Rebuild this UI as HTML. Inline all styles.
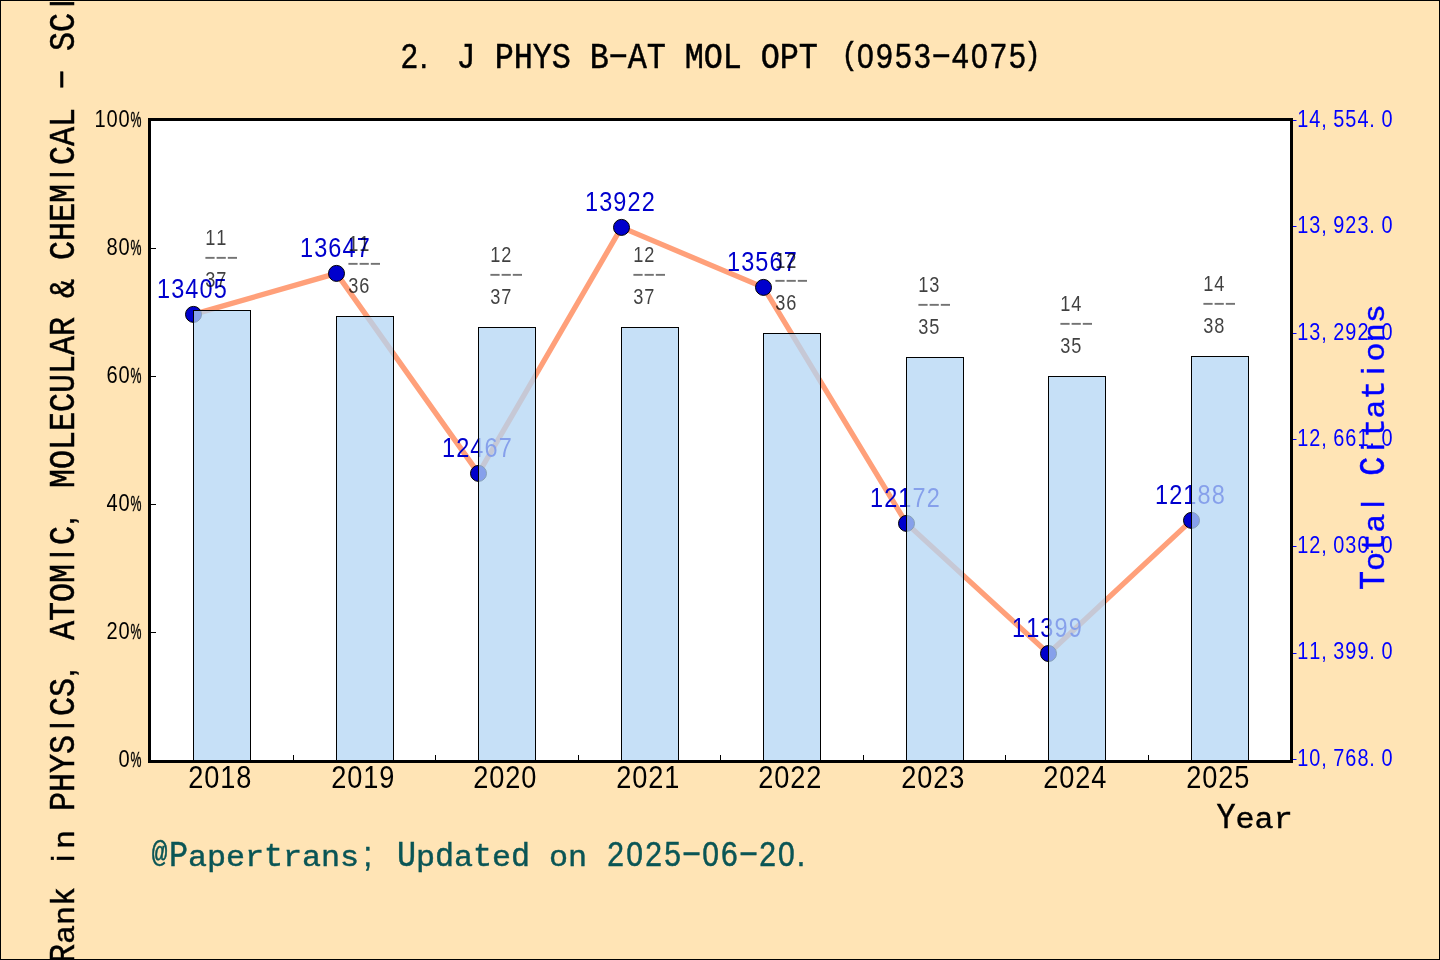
<!DOCTYPE html>
<html><head><meta charset="utf-8"><title>chart</title>
<style>html,body{margin:0;padding:0;background:#FFE4B5}body{width:1440px;height:960px;overflow:hidden}</style></head>
<body>
<svg width="1440" height="960" viewBox="0 0 1440 960" style="display:block;will-change:transform">
<style>text{white-space:pre}.s{font-family:"Liberation Sans",sans-serif}.m{font-family:"Liberation Mono",monospace}</style>
<rect x="0" y="0" width="1440" height="960" fill="#FFE4B5"/>
<rect x="0.5" y="0.5" width="1439" height="959" fill="none" stroke="#000" stroke-width="1"/>
<rect x="149.5" y="119.5" width="1142" height="642" fill="#fff"/>
<polyline points="193.5,314.4 336.5,273.4 478.5,473.4 621.5,227.4 763.5,287.4 906.5,523.4 1048.5,653.5 1191.5,520.4" fill="none" stroke="#FFA07A" stroke-width="5.3" stroke-linejoin="round"/>
<circle cx="193.5" cy="314.4" r="8" fill="#0000CD" stroke="#000" stroke-width="1"/>
<circle cx="336.5" cy="273.4" r="8" fill="#0000CD" stroke="#000" stroke-width="1"/>
<circle cx="478.5" cy="473.4" r="8" fill="#0000CD" stroke="#000" stroke-width="1"/>
<circle cx="621.5" cy="227.4" r="8" fill="#0000CD" stroke="#000" stroke-width="1"/>
<circle cx="763.5" cy="287.4" r="8" fill="#0000CD" stroke="#000" stroke-width="1"/>
<circle cx="906.5" cy="523.4" r="8" fill="#0000CD" stroke="#000" stroke-width="1"/>
<circle cx="1048.5" cy="653.5" r="8" fill="#0000CD" stroke="#000" stroke-width="1"/>
<circle cx="1191.5" cy="520.4" r="8" fill="#0000CD" stroke="#000" stroke-width="1"/>
<text class="s" transform="translate(156.40,298.20) scale(0.8700,1)" x="8.16 24.48 40.80 57.13 73.45" y="0" font-size="27.00" fill="#0000CD" text-anchor="middle">13405</text>
<text class="s" transform="translate(299.40,257.20) scale(0.8700,1)" x="8.16 24.48 40.80 57.13 73.45" y="0" font-size="27.00" fill="#0000CD" text-anchor="middle">13647</text>
<text class="s" transform="translate(441.40,457.20) scale(0.8700,1)" x="8.16 24.48 40.80 57.13 73.45" y="0" font-size="27.00" fill="#0000CD" text-anchor="middle">12467</text>
<text class="s" transform="translate(584.40,211.20) scale(0.8700,1)" x="8.16 24.48 40.80 57.13 73.45" y="0" font-size="27.00" fill="#0000CD" text-anchor="middle">13922</text>
<text class="s" transform="translate(726.40,271.20) scale(0.8700,1)" x="8.16 24.48 40.80 57.13 73.45" y="0" font-size="27.00" fill="#0000CD" text-anchor="middle">13567</text>
<text class="s" transform="translate(869.40,507.20) scale(0.8700,1)" x="8.16 24.48 40.80 57.13 73.45" y="0" font-size="27.00" fill="#0000CD" text-anchor="middle">12172</text>
<text class="s" transform="translate(1011.40,637.30) scale(0.8700,1)" x="8.16 24.48 40.80 57.13 73.45" y="0" font-size="27.00" fill="#0000CD" text-anchor="middle">11399</text>
<text class="s" transform="translate(1154.40,504.20) scale(0.8700,1)" x="8.16 24.48 40.80 57.13 73.45" y="0" font-size="27.00" fill="#0000CD" text-anchor="middle">12188</text>
<line x1="1293" y1="120.5" x2="1296.5" y2="120.5" stroke="#0000FF" stroke-width="1"/>
<text class="s" transform="translate(1296.80,126.50) scale(0.8500,1)" x="7.07 21.21 31.91 49.49 63.64 77.78 88.48 106.06" y="0" font-size="23.40" fill="#0000FF" text-anchor="middle">14,554.0</text>
<line x1="1293" y1="226.5" x2="1296.5" y2="226.5" stroke="#0000FF" stroke-width="1"/>
<text class="s" transform="translate(1296.80,233.08) scale(0.8500,1)" x="7.07 21.21 31.91 49.49 63.64 77.78 88.48 106.06" y="0" font-size="23.40" fill="#0000FF" text-anchor="middle">13,923.0</text>
<line x1="1293" y1="333.5" x2="1296.5" y2="333.5" stroke="#0000FF" stroke-width="1"/>
<text class="s" transform="translate(1296.80,339.66) scale(0.8500,1)" x="7.07 21.21 31.91 49.49 63.64 77.78 88.48 106.06" y="0" font-size="23.40" fill="#0000FF" text-anchor="middle">13,292.0</text>
<line x1="1293" y1="439.5" x2="1296.5" y2="439.5" stroke="#0000FF" stroke-width="1"/>
<text class="s" transform="translate(1296.80,446.24) scale(0.8500,1)" x="7.07 21.21 31.91 49.49 63.64 77.78 88.48 106.06" y="0" font-size="23.40" fill="#0000FF" text-anchor="middle">12,661.0</text>
<line x1="1293" y1="546.5" x2="1296.5" y2="546.5" stroke="#0000FF" stroke-width="1"/>
<text class="s" transform="translate(1296.80,552.82) scale(0.8500,1)" x="7.07 21.21 31.91 49.49 63.64 77.78 88.48 106.06" y="0" font-size="23.40" fill="#0000FF" text-anchor="middle">12,030.0</text>
<line x1="1293" y1="653.5" x2="1296.5" y2="653.5" stroke="#0000FF" stroke-width="1"/>
<text class="s" transform="translate(1296.80,659.40) scale(0.8500,1)" x="7.07 21.21 31.91 49.49 63.64 77.78 88.48 106.06" y="0" font-size="23.40" fill="#0000FF" text-anchor="middle">11,399.0</text>
<line x1="1293" y1="759.5" x2="1296.5" y2="759.5" stroke="#0000FF" stroke-width="1"/>
<text class="s" transform="translate(1296.80,765.98) scale(0.8500,1)" x="7.07 21.21 31.91 49.49 63.64 77.78 88.48 106.06" y="0" font-size="23.40" fill="#0000FF" text-anchor="middle">10,768.0</text>
<text transform="translate(1384.20,589.98) rotate(-90) scale(0.8740,1.0000)" x="10.90" y="0" fill="#0000FF" text-anchor="middle" stroke="#0000FF" stroke-width="0.5"><tspan class="m" font-size="36.40">T</tspan></text>
<text transform="translate(1384.20,589.98) rotate(-90) scale(0.8740,0.8000)" x="32.69" y="0" fill="#0000FF" text-anchor="middle" stroke="#0000FF" stroke-width="0.5"><tspan class="m" font-size="36.40">o</tspan></text>
<text transform="translate(1384.20,589.98) rotate(-90) scale(0.8740,0.9000)" x="54.49" y="0" fill="#0000FF" text-anchor="middle" stroke="#0000FF" stroke-width="0.5"><tspan class="m" font-size="36.40">t</tspan></text>
<text transform="translate(1384.20,589.98) rotate(-90) scale(0.8740,0.8000)" x="76.29" y="0" fill="#0000FF" text-anchor="middle" stroke="#0000FF" stroke-width="0.5"><tspan class="m" font-size="36.40">a</tspan></text>
<text transform="translate(1384.20,589.98) rotate(-90) scale(0.8740,0.9000)" x="98.08 119.88" y="0" fill="#0000FF" text-anchor="middle" stroke="#0000FF" stroke-width="0.5"><tspan class="s" font-size="34.83">l</tspan><tspan class="m" font-size="36.40"> </tspan></text>
<text transform="translate(1384.20,589.98) rotate(-90) scale(0.8740,1.0000)" x="141.68" y="0" fill="#0000FF" text-anchor="middle" stroke="#0000FF" stroke-width="0.5"><tspan class="m" font-size="36.40">C</tspan></text>
<text transform="translate(1384.20,589.98) rotate(-90) scale(0.8740,0.9000)" x="163.47 185.27" y="0" fill="#0000FF" text-anchor="middle" stroke="#0000FF" stroke-width="0.5"><tspan class="s" font-size="34.83">i</tspan><tspan class="m" font-size="36.40">t</tspan></text>
<text transform="translate(1384.20,589.98) rotate(-90) scale(0.8740,0.8000)" x="207.07" y="0" fill="#0000FF" text-anchor="middle" stroke="#0000FF" stroke-width="0.5"><tspan class="m" font-size="36.40">a</tspan></text>
<text transform="translate(1384.20,589.98) rotate(-90) scale(0.8740,0.9000)" x="228.86 250.66" y="0" fill="#0000FF" text-anchor="middle" stroke="#0000FF" stroke-width="0.5"><tspan class="m" font-size="36.40">t</tspan><tspan class="s" font-size="34.83">i</tspan></text>
<text transform="translate(1384.20,589.98) rotate(-90) scale(0.8740,0.8000)" x="272.45 294.25 316.05" y="0" fill="#0000FF" text-anchor="middle" stroke="#0000FF" stroke-width="0.5"><tspan class="m" font-size="36.40">ons</tspan></text>
<rect x="193.5" y="310.5" width="57" height="451" fill="rgb(179,214,244)" fill-opacity="0.75" stroke="#000" stroke-width="1"/>
<rect x="336.5" y="316.5" width="57" height="445" fill="rgb(179,214,244)" fill-opacity="0.75" stroke="#000" stroke-width="1"/>
<rect x="478.5" y="327.5" width="57" height="434" fill="rgb(179,214,244)" fill-opacity="0.75" stroke="#000" stroke-width="1"/>
<rect x="621.5" y="327.5" width="57" height="434" fill="rgb(179,214,244)" fill-opacity="0.75" stroke="#000" stroke-width="1"/>
<rect x="763.5" y="333.5" width="57" height="428" fill="rgb(179,214,244)" fill-opacity="0.75" stroke="#000" stroke-width="1"/>
<rect x="906.5" y="357.5" width="57" height="404" fill="rgb(179,214,244)" fill-opacity="0.75" stroke="#000" stroke-width="1"/>
<rect x="1048.5" y="376.5" width="57" height="385" fill="rgb(179,214,244)" fill-opacity="0.75" stroke="#000" stroke-width="1"/>
<rect x="1191.5" y="356.5" width="57" height="405" fill="rgb(179,214,244)" fill-opacity="0.75" stroke="#000" stroke-width="1"/>
<text class="s" transform="translate(204.80,245.00) scale(0.8500,1)" x="6.47 19.41" y="0" font-size="21.40" fill="#000" text-anchor="middle" fill-opacity="0.75">11</text>
<text class="s" transform="translate(204.80,286.80) scale(0.8500,1)" x="6.47 19.41" y="0" font-size="21.40" fill="#000" text-anchor="middle" fill-opacity="0.75">37</text>
<rect x="205.40" y="256.90" width="9.2" height="1.9" fill="#000" fill-opacity="0.55"/>
<rect x="216.60" y="256.90" width="9.2" height="1.9" fill="#000" fill-opacity="0.55"/>
<rect x="227.80" y="256.90" width="9.2" height="1.9" fill="#000" fill-opacity="0.55"/>
<text class="s" transform="translate(347.80,251.00) scale(0.8500,1)" x="6.47 19.41" y="0" font-size="21.40" fill="#000" text-anchor="middle" fill-opacity="0.75">11</text>
<text class="s" transform="translate(347.80,292.80) scale(0.8500,1)" x="6.47 19.41" y="0" font-size="21.40" fill="#000" text-anchor="middle" fill-opacity="0.75">36</text>
<rect x="348.40" y="262.90" width="9.2" height="1.9" fill="#000" fill-opacity="0.55"/>
<rect x="359.60" y="262.90" width="9.2" height="1.9" fill="#000" fill-opacity="0.55"/>
<rect x="370.80" y="262.90" width="9.2" height="1.9" fill="#000" fill-opacity="0.55"/>
<text class="s" transform="translate(489.80,262.00) scale(0.8500,1)" x="6.47 19.41" y="0" font-size="21.40" fill="#000" text-anchor="middle" fill-opacity="0.75">12</text>
<text class="s" transform="translate(489.80,303.80) scale(0.8500,1)" x="6.47 19.41" y="0" font-size="21.40" fill="#000" text-anchor="middle" fill-opacity="0.75">37</text>
<rect x="490.40" y="273.90" width="9.2" height="1.9" fill="#000" fill-opacity="0.55"/>
<rect x="501.60" y="273.90" width="9.2" height="1.9" fill="#000" fill-opacity="0.55"/>
<rect x="512.80" y="273.90" width="9.2" height="1.9" fill="#000" fill-opacity="0.55"/>
<text class="s" transform="translate(632.80,262.00) scale(0.8500,1)" x="6.47 19.41" y="0" font-size="21.40" fill="#000" text-anchor="middle" fill-opacity="0.75">12</text>
<text class="s" transform="translate(632.80,303.80) scale(0.8500,1)" x="6.47 19.41" y="0" font-size="21.40" fill="#000" text-anchor="middle" fill-opacity="0.75">37</text>
<rect x="633.40" y="273.90" width="9.2" height="1.9" fill="#000" fill-opacity="0.55"/>
<rect x="644.60" y="273.90" width="9.2" height="1.9" fill="#000" fill-opacity="0.55"/>
<rect x="655.80" y="273.90" width="9.2" height="1.9" fill="#000" fill-opacity="0.55"/>
<text class="s" transform="translate(774.80,268.00) scale(0.8500,1)" x="6.47 19.41" y="0" font-size="21.40" fill="#000" text-anchor="middle" fill-opacity="0.75">12</text>
<text class="s" transform="translate(774.80,309.80) scale(0.8500,1)" x="6.47 19.41" y="0" font-size="21.40" fill="#000" text-anchor="middle" fill-opacity="0.75">36</text>
<rect x="775.40" y="279.90" width="9.2" height="1.9" fill="#000" fill-opacity="0.55"/>
<rect x="786.60" y="279.90" width="9.2" height="1.9" fill="#000" fill-opacity="0.55"/>
<rect x="797.80" y="279.90" width="9.2" height="1.9" fill="#000" fill-opacity="0.55"/>
<text class="s" transform="translate(917.80,292.00) scale(0.8500,1)" x="6.47 19.41" y="0" font-size="21.40" fill="#000" text-anchor="middle" fill-opacity="0.75">13</text>
<text class="s" transform="translate(917.80,333.80) scale(0.8500,1)" x="6.47 19.41" y="0" font-size="21.40" fill="#000" text-anchor="middle" fill-opacity="0.75">35</text>
<rect x="918.40" y="303.90" width="9.2" height="1.9" fill="#000" fill-opacity="0.55"/>
<rect x="929.60" y="303.90" width="9.2" height="1.9" fill="#000" fill-opacity="0.55"/>
<rect x="940.80" y="303.90" width="9.2" height="1.9" fill="#000" fill-opacity="0.55"/>
<text class="s" transform="translate(1059.80,311.00) scale(0.8500,1)" x="6.47 19.41" y="0" font-size="21.40" fill="#000" text-anchor="middle" fill-opacity="0.75">14</text>
<text class="s" transform="translate(1059.80,352.80) scale(0.8500,1)" x="6.47 19.41" y="0" font-size="21.40" fill="#000" text-anchor="middle" fill-opacity="0.75">35</text>
<rect x="1060.40" y="322.90" width="9.2" height="1.9" fill="#000" fill-opacity="0.55"/>
<rect x="1071.60" y="322.90" width="9.2" height="1.9" fill="#000" fill-opacity="0.55"/>
<rect x="1082.80" y="322.90" width="9.2" height="1.9" fill="#000" fill-opacity="0.55"/>
<text class="s" transform="translate(1202.80,291.00) scale(0.8500,1)" x="6.47 19.41" y="0" font-size="21.40" fill="#000" text-anchor="middle" fill-opacity="0.75">14</text>
<text class="s" transform="translate(1202.80,332.80) scale(0.8500,1)" x="6.47 19.41" y="0" font-size="21.40" fill="#000" text-anchor="middle" fill-opacity="0.75">38</text>
<rect x="1203.40" y="302.90" width="9.2" height="1.9" fill="#000" fill-opacity="0.55"/>
<rect x="1214.60" y="302.90" width="9.2" height="1.9" fill="#000" fill-opacity="0.55"/>
<rect x="1225.80" y="302.90" width="9.2" height="1.9" fill="#000" fill-opacity="0.55"/>
<line x1="151" y1="632.5" x2="156" y2="632.5" stroke="#000" stroke-width="1"/>
<line x1="151" y1="504.5" x2="156" y2="504.5" stroke="#000" stroke-width="1"/>
<line x1="151" y1="376.5" x2="156" y2="376.5" stroke="#000" stroke-width="1"/>
<line x1="151" y1="248.5" x2="156" y2="248.5" stroke="#000" stroke-width="1"/>
<line x1="293.5" y1="755" x2="293.5" y2="760" stroke="#000" stroke-width="1"/>
<line x1="435.5" y1="755" x2="435.5" y2="760" stroke="#000" stroke-width="1"/>
<line x1="578.5" y1="755" x2="578.5" y2="760" stroke="#000" stroke-width="1"/>
<line x1="720.5" y1="755" x2="720.5" y2="760" stroke="#000" stroke-width="1"/>
<line x1="863.5" y1="755" x2="863.5" y2="760" stroke="#000" stroke-width="1"/>
<line x1="1005.5" y1="755" x2="1005.5" y2="760" stroke="#000" stroke-width="1"/>
<line x1="1148.5" y1="755" x2="1148.5" y2="760" stroke="#000" stroke-width="1"/>
<rect x="149.5" y="119.5" width="1142" height="642" fill="none" stroke="#000" stroke-width="3"/>
<text class="s" transform="translate(118.20,767.40) scale(0.8500,1)" x="7.06" y="0" font-size="23.60" fill="#000" text-anchor="middle">0</text>
<text class="s" transform="translate(135.90,767.30) scale(0.55,1)" x="0" y="0" font-size="22.4" fill="#000" stroke="#000" stroke-width="0.4" text-anchor="middle">%</text>
<text class="s" transform="translate(106.20,639.40) scale(0.8500,1)" x="7.06 21.18" y="0" font-size="23.60" fill="#000" text-anchor="middle">20</text>
<text class="s" transform="translate(135.90,639.30) scale(0.55,1)" x="0" y="0" font-size="22.4" fill="#000" stroke="#000" stroke-width="0.4" text-anchor="middle">%</text>
<text class="s" transform="translate(106.20,511.40) scale(0.8500,1)" x="7.06 21.18" y="0" font-size="23.60" fill="#000" text-anchor="middle">40</text>
<text class="s" transform="translate(135.90,511.30) scale(0.55,1)" x="0" y="0" font-size="22.4" fill="#000" stroke="#000" stroke-width="0.4" text-anchor="middle">%</text>
<text class="s" transform="translate(106.20,383.40) scale(0.8500,1)" x="7.06 21.18" y="0" font-size="23.60" fill="#000" text-anchor="middle">60</text>
<text class="s" transform="translate(135.90,383.30) scale(0.55,1)" x="0" y="0" font-size="22.4" fill="#000" stroke="#000" stroke-width="0.4" text-anchor="middle">%</text>
<text class="s" transform="translate(106.20,255.40) scale(0.8500,1)" x="7.06 21.18" y="0" font-size="23.60" fill="#000" text-anchor="middle">80</text>
<text class="s" transform="translate(135.90,255.30) scale(0.55,1)" x="0" y="0" font-size="22.4" fill="#000" stroke="#000" stroke-width="0.4" text-anchor="middle">%</text>
<text class="s" transform="translate(94.20,127.40) scale(0.8500,1)" x="7.06 21.18 35.29" y="0" font-size="23.60" fill="#000" text-anchor="middle">100</text>
<text class="s" transform="translate(135.90,127.30) scale(0.55,1)" x="0" y="0" font-size="22.4" fill="#000" stroke="#000" stroke-width="0.4" text-anchor="middle">%</text>
<text class="s" transform="translate(187.90,787.80) scale(0.8700,1)" x="9.20 27.59 45.98 64.37" y="0" font-size="31.20" fill="#000" text-anchor="middle">2018</text>
<text class="s" transform="translate(330.90,787.80) scale(0.8700,1)" x="9.20 27.59 45.98 64.37" y="0" font-size="31.20" fill="#000" text-anchor="middle">2019</text>
<text class="s" transform="translate(472.90,787.80) scale(0.8700,1)" x="9.20 27.59 45.98 64.37" y="0" font-size="31.20" fill="#000" text-anchor="middle">2020</text>
<text class="s" transform="translate(615.90,787.80) scale(0.8700,1)" x="9.20 27.59 45.98 64.37" y="0" font-size="31.20" fill="#000" text-anchor="middle">2021</text>
<text class="s" transform="translate(757.90,787.80) scale(0.8700,1)" x="9.20 27.59 45.98 64.37" y="0" font-size="31.20" fill="#000" text-anchor="middle">2022</text>
<text class="s" transform="translate(900.90,787.80) scale(0.8700,1)" x="9.20 27.59 45.98 64.37" y="0" font-size="31.20" fill="#000" text-anchor="middle">2023</text>
<text class="s" transform="translate(1042.90,787.80) scale(0.8700,1)" x="9.20 27.59 45.98 64.37" y="0" font-size="31.20" fill="#000" text-anchor="middle">2024</text>
<text class="s" transform="translate(1185.90,787.80) scale(0.8700,1)" x="9.20 27.59 45.98 64.37" y="0" font-size="31.20" fill="#000" text-anchor="middle">2025</text>
<text transform="translate(399.80,68.20) scale(0.8740,1.0000)" x="10.87 27.40 54.35 76.09 97.83 119.57 141.30 163.04 184.78 206.52 228.26 250.00 271.74 293.48 315.22 336.96 358.70 380.43 402.17 423.91 445.65 467.39 489.13 514.83 532.61 554.35 576.09 597.83 619.57 641.30 663.04 684.78 706.52 723.89" y="0.00 0.00 0.00 0.00 0.00 0.00 0.00 0.00 0.00 0.00 0.00 0.00 0.00 0.00 0.00 0.00 0.00 0.00 0.00 0.00 0.00 0.00 0.00 -4.19 0.00 0.00 0.00 0.00 0.00 0.00 0.00 0.00 0.00 -4.19" fill="#000" text-anchor="middle" stroke="#000" stroke-width="0.5"><tspan class="s" font-size="34.40">2</tspan><tspan class="s" font-size="34.83">.</tspan><tspan class="m" font-size="36.40"> </tspan><tspan class="s" font-size="34.83">J</tspan><tspan class="m" font-size="36.40"> PHYS B−AT MOL OPT </tspan><tspan class="m" font-size="32.03">(</tspan><tspan class="s" font-size="34.40">0953</tspan><tspan class="m" font-size="36.40">−</tspan><tspan class="s" font-size="34.40">4075</tspan><tspan class="m" font-size="32.03">)</tspan></text>
<text transform="translate(1216.40,828.20) scale(0.8740,1.0000)" x="10.93" y="0" fill="#000" text-anchor="middle" stroke="#000" stroke-width="0.5"><tspan class="m" font-size="36.40">Y</tspan></text>
<text transform="translate(1216.40,828.20) scale(0.8740,0.8000)" x="32.78 54.63 76.49" y="0" fill="#000" text-anchor="middle" stroke="#000" stroke-width="0.5"><tspan class="m" font-size="36.40">ear</tspan></text>
<text transform="translate(74.40,962.90) rotate(-90) scale(0.8740,1.0000)" x="10.87" y="0" fill="#000" text-anchor="middle" stroke="#000" stroke-width="0.5"><tspan class="m" font-size="36.40">R</tspan></text>
<text transform="translate(74.40,962.90) rotate(-90) scale(0.8740,0.8000)" x="32.61 54.35" y="0" fill="#000" text-anchor="middle" stroke="#000" stroke-width="0.5"><tspan class="m" font-size="36.40">an</tspan></text>
<text transform="translate(74.40,962.90) rotate(-90) scale(0.8740,0.9000)" x="76.09 97.83 119.57" y="0" fill="#000" text-anchor="middle" stroke="#000" stroke-width="0.5"><tspan class="m" font-size="36.40">k </tspan><tspan class="s" font-size="34.83">i</tspan></text>
<text transform="translate(74.40,962.90) rotate(-90) scale(0.8740,0.8000)" x="141.30 163.04" y="0" fill="#000" text-anchor="middle" stroke="#000" stroke-width="0.5"><tspan class="m" font-size="36.40">n </tspan></text>
<text transform="translate(74.40,962.90) rotate(-90) scale(0.8740,1.0000)" x="184.78 206.52 228.26 250.00 271.74 293.48 315.22 331.75 358.70 380.43 402.17 423.91 445.65 467.39 489.13 505.66 532.61 554.35 576.09 597.83 619.57 641.30 663.04 684.78 706.52 728.26 750.00 771.74 793.48 815.22 836.96 858.70 880.43 902.17 923.91 945.65 967.39 989.13 1010.87 1032.61 1054.35 1076.09 1097.83 1119.57 1141.30 1163.04 1184.78" y="0" fill="#000" text-anchor="middle" stroke="#000" stroke-width="0.5"><tspan class="m" font-size="36.40">PHYS</tspan><tspan class="s" font-size="34.83">I</tspan><tspan class="m" font-size="36.40">CS</tspan><tspan class="s" font-size="34.83">,</tspan><tspan class="m" font-size="36.40"> ATOM</tspan><tspan class="s" font-size="34.83">I</tspan><tspan class="m" font-size="36.40">C</tspan><tspan class="s" font-size="34.83">,</tspan><tspan class="m" font-size="36.40"> MOLECULAR &amp; CHEM</tspan><tspan class="s" font-size="34.83">I</tspan><tspan class="m" font-size="36.40">CAL − SC</tspan><tspan class="s" font-size="34.83">I</tspan><tspan class="m" font-size="36.40">E   </tspan></text>
<text transform="translate(150.00,866.30) scale(0.8740,1.0000)" x="10.87 32.61" y="-4.00 0.00" fill="#0a5555" text-anchor="middle" stroke="#0a5555" stroke-width="0.5"><tspan class="m" font-size="29.85">@</tspan><tspan class="m" font-size="36.40">P</tspan></text>
<text transform="translate(150.00,866.30) scale(0.8740,0.8000)" x="54.35 76.09 97.83 119.57" y="0" fill="#0a5555" text-anchor="middle" stroke="#0a5555" stroke-width="0.5"><tspan class="m" font-size="36.40">aper</tspan></text>
<text transform="translate(150.00,866.30) scale(0.8740,0.9000)" x="141.30" y="0" fill="#0a5555" text-anchor="middle" stroke="#0a5555" stroke-width="0.5"><tspan class="m" font-size="36.40">t</tspan></text>
<text transform="translate(150.00,866.30) scale(0.8740,0.8000)" x="163.04 184.78 206.52 228.26" y="0" fill="#0a5555" text-anchor="middle" stroke="#0a5555" stroke-width="0.5"><tspan class="m" font-size="36.40">rans</tspan></text>
<text transform="translate(150.00,866.30) scale(0.8740,1.0000)" x="249.17 271.74 293.48" y="0" fill="#0a5555" text-anchor="middle" stroke="#0a5555" stroke-width="0.5"><tspan class="s" font-size="34.83">;</tspan><tspan class="m" font-size="36.40"> U</tspan></text>
<text transform="translate(150.00,866.30) scale(0.8740,0.8000)" x="315.22" y="0" fill="#0a5555" text-anchor="middle" stroke="#0a5555" stroke-width="0.5"><tspan class="m" font-size="36.40">p</tspan></text>
<text transform="translate(150.00,866.30) scale(0.8740,0.9000)" x="336.96" y="0" fill="#0a5555" text-anchor="middle" stroke="#0a5555" stroke-width="0.5"><tspan class="m" font-size="36.40">d</tspan></text>
<text transform="translate(150.00,866.30) scale(0.8740,0.8000)" x="358.70" y="0" fill="#0a5555" text-anchor="middle" stroke="#0a5555" stroke-width="0.5"><tspan class="m" font-size="36.40">a</tspan></text>
<text transform="translate(150.00,866.30) scale(0.8740,0.9000)" x="380.43" y="0" fill="#0a5555" text-anchor="middle" stroke="#0a5555" stroke-width="0.5"><tspan class="m" font-size="36.40">t</tspan></text>
<text transform="translate(150.00,866.30) scale(0.8740,0.8000)" x="402.17" y="0" fill="#0a5555" text-anchor="middle" stroke="#0a5555" stroke-width="0.5"><tspan class="m" font-size="36.40">e</tspan></text>
<text transform="translate(150.00,866.30) scale(0.8740,0.9000)" x="423.91 445.65" y="0" fill="#0a5555" text-anchor="middle" stroke="#0a5555" stroke-width="0.5"><tspan class="m" font-size="36.40">d </tspan></text>
<text transform="translate(150.00,866.30) scale(0.8740,0.8000)" x="467.39 489.13 510.87" y="0" fill="#0a5555" text-anchor="middle" stroke="#0a5555" stroke-width="0.5"><tspan class="m" font-size="36.40">on </tspan></text>
<text transform="translate(150.00,866.30) scale(0.8740,1.0000)" x="532.61 554.35 576.09 597.83 619.57 641.30 663.04 684.78 706.52 728.26 744.79" y="0" fill="#0a5555" text-anchor="middle" stroke="#0a5555" stroke-width="0.5"><tspan class="s" font-size="34.40">2025</tspan><tspan class="m" font-size="36.40">−</tspan><tspan class="s" font-size="34.40">06</tspan><tspan class="m" font-size="36.40">−</tspan><tspan class="s" font-size="34.40">20</tspan><tspan class="s" font-size="34.83">.</tspan></text>
</svg>
</body></html>
